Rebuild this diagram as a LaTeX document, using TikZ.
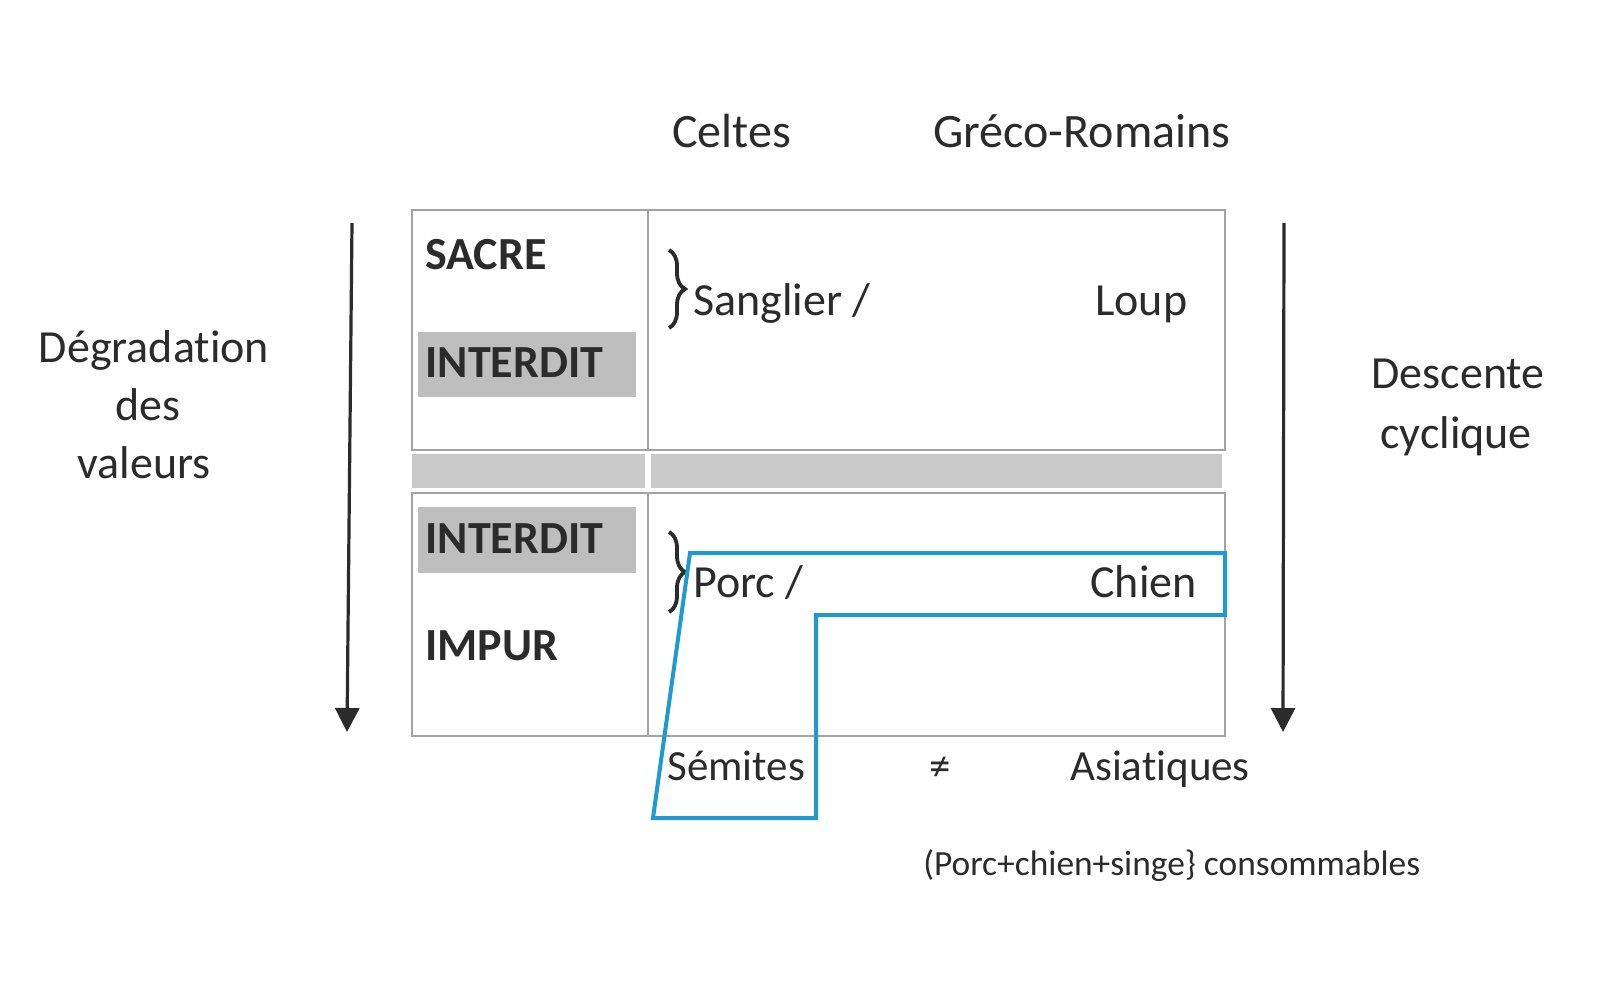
\documentclass[tikz,border=0pt]{standalone}
\usepackage{fontspec}
\setmainfont{Carlito}[Ligatures={NoCommon}]
\usetikzlibrary{arrows.meta,decorations.pathreplacing}
\definecolor{ink}{HTML}{2B2B2B}
\definecolor{gridgray}{HTML}{A3A3A3}
\definecolor{bandgray}{HTML}{C9C9C9}
\definecolor{boxgray}{HTML}{BEBEBE}
\definecolor{blueline}{HTML}{1E9AD0}
\begin{document}
\begin{tikzpicture}[x=0.5pt,y=-0.5pt,
  txt/.style={inner sep=0pt, text=ink, font=\fontsize{23pt}{28pt}\selectfont},
  head/.style={inner sep=0pt, text=ink, font=\fontsize{24pt}{29pt}\selectfont},
  lbl/.style={inner sep=0pt, text=ink, font=\fontsize{23pt}{28pt}\selectfont\bfseries},
  low/.style={inner sep=0pt, text=ink, font=\fontsize{21.5pt}{26pt}\selectfont},
  note/.style={inner sep=0pt, text=ink, font=\fontsize{17.7pt}{22pt}\selectfont},
  grid/.style={draw=gridgray, line width=1pt},
  bracemark/.style={draw=ink, line width=1.9pt, decorate, decoration={brace, amplitude=8pt}},
  downarrow/.style={draw=ink, line width=1.6pt, -{Triangle[width=12pt,length=12pt]}},
  zone/.style={draw=blueline, line width=2pt, line join=miter}
]
\useasboundingbox (0,0) rectangle (1600,992);

% column headers
\node[head, anchor=base west] (celtes) at (672,147) {Celtes};
\node[head, anchor=base west] (greco) at (933,147) {Gréco-Romains};

% table frame
\draw[grid] (412,210) rectangle (1225,450);
\draw[grid] (412,493) rectangle (1225,736);
\draw[grid] (648,210) -- (648,450);
\draw[grid] (648,493) -- (648,736);
\fill[bandgray] (412,454) rectangle (645,488);
\fill[bandgray] (651,454) rectangle (1222,488);

% gray label boxes
\fill[boxgray] (418,332) rectangle (636,397);
\fill[boxgray] (418,507) rectangle (636,573);

% left column labels
\node[lbl, anchor=base west] (sacre) at (425,269) {SACRE};
\node[lbl, anchor=base west] (interdit1) at (425,377) {INTERDIT};
\node[lbl, anchor=base west] (interdit2) at (425,553) {INTERDIT};
\node[lbl, anchor=base west] (impur) at (425,660) {IMPUR};

% braces
\draw[bracemark] (669,250) -- (669,328);
\draw[bracemark] (669,532) -- (669,612);

% animals
\node[txt, anchor=base west] (sanglier) at (693,315) {Sanglier /};
\node[txt, anchor=base west] (loup) at (1095,315) {Loup};
\node[txt, anchor=base west] (porc) at (693,597) {Porc /};
\node[txt, anchor=base west] (chien) at (1090,597) {Chien};

% blue outline
\draw[zone] (690,553) -- (1225,553) -- (1225,615) -- (816,615) -- (816,818) -- (653,818) -- cycle;

% bottom labels
\node[low, anchor=base west] (semites) at (667,780) {Sémites};
\node[low, anchor=base west] (neq) at (929,780) {≠};
\node[low, anchor=base west] (asiatiques) at (1070,780) {Asiatiques};
\node[note, anchor=base west] (conso) at (923,875) {(Porc+chien+singe\} consommables};

% side texts
\node[txt, anchor=base] (deg1) at (154,362) {Dégradat\kern0pt ion};
\node[txt, anchor=base] (deg2) at (148,420) {des};
\node[txt, anchor=base] (deg3) at (144,478) {valeurs};
\node[txt, anchor=base] (desc1) at (1458,388) {Descente};
\node[txt, anchor=base] (desc2) at (1456,448) {cyclique};

% arrows
\coordinate (la0) at (352,223);
\coordinate (la1) at (347,732);
\coordinate (ra0) at (1284,223);
\coordinate (ra1) at (1283,732);
\draw[downarrow] (la0) -- (la1);
\draw[downarrow] (ra0) -- (ra1);
\end{tikzpicture}
\end{document}
